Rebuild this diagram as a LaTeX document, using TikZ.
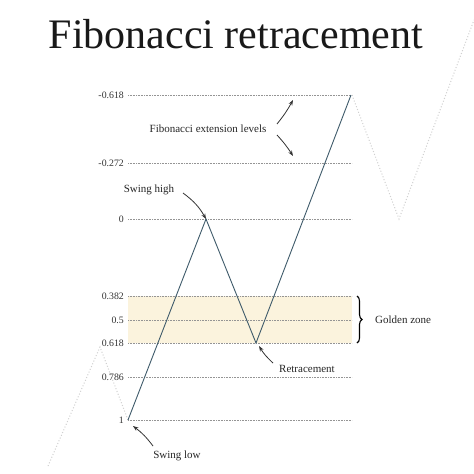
\documentclass[tikz,border=0pt]{standalone}
\usepackage{fontspec}
\setmainfont{Liberation Serif}
\usetikzlibrary{decorations.pathreplacing,arrows.meta}
\definecolor{zig}{HTML}{3F5B6B}
\definecolor{lvl}{HTML}{949494}
\definecolor{gold}{HTML}{FBF3DD}
\definecolor{faint}{HTML}{D0D0D0}
\tikzset{
  level/.style={draw=lvl, dash pattern=on 0.8pt off 0.8pt, line width=0.7pt},
  lvllabel/.style={anchor=east, font=\fontsize{9.8}{11}\selectfont, text=black!80, inner sep=0pt},
  annot/.style={font=\fontsize{11}{13}\selectfont, text=black!85, inner sep=1pt},
  pointer/.style={-{Stealth[length=5.5pt,width=4pt]}, line width=0.8pt, black!80},
  zigline/.style={draw=zig, line width=0.9pt},
  ghost/.style={draw=faint, dotted, line width=1pt}
}
\begin{document}
\begin{tikzpicture}[x=1pt,y=-1pt]
\useasboundingbox (0,0) rectangle (474,474);
\fill[white] (0,0) rectangle (474,474);
% golden zone
\fill[gold] (128,296) rectangle (352,343);
% ghost lines
\coordinate (g1) at (352,95);
\coordinate (g2) at (399,219);
\coordinate (g3) at (474,20);
\coordinate (g4) at (100,347);
\coordinate (g5) at (128,420);
\coordinate (g6) at (48,466);
\draw[ghost] (g1) -- (g2) -- (g3);
\draw[ghost] (g6) -- (g4) -- (g5);
% levels
\foreach \v/\y/\n in {-0.618/95/a,-0.272/163/b,0/219/c,0.382/296/d,0.5/320/e,0.618/343/f,0.786/377/g,1/420/h}{
  \node[lvllabel] (L\n) at (124,\y) {\v};
  \coordinate (E\n) at (352,\y);
  \draw[level] (128,\y) -- (E\n);
}
% title
\node[font=\fontsize{42}{46}\selectfont, anchor=base, text=black!90] (title) at (236,48) {Fibonacci retracement};
% zigzag
\coordinate (low) at (128,420);
\coordinate (high) at (206,219);
\coordinate (retr) at (256,343);
\coordinate (top) at (351,95);
\draw[zigline, line join=miter] (low) -- (high) -- (retr) -- (top);
% brace
\coordinate (bt) at (357,296);
\coordinate (bb) at (357,343);
\draw[line width=1.1pt, decorate, decoration={brace, amplitude=5pt}] (bt) -- (bb);
\node[annot, anchor=west] (gz) at (374,320) {Golden zone};
% annotations
\node[annot] (fel) at (208,129) {Fibonacci extension levels};
\coordinate (fa1) at (293,100);
\coordinate (fa2) at (293,156);
\draw[pointer] (277,124) to[bend right=5] (fa1);
\draw[pointer] (277,135) to[bend left=5] (fa2);
\node[annot] (sh) at (149,190) {Swing high};
\draw[pointer] (183,193) to[bend left=12] (high);
\node[annot] (rt) at (307,369) {Retracement};
\coordinate (ra) at (259,346);
\draw[pointer] (273,363) to[bend left=8] (ra);
\node[annot] (sl) at (177,456) {Swing low};
\coordinate (sa) at (133,426);
\draw[pointer] (153,446) to[bend right=8] (sa);
\end{tikzpicture}
\end{document}
